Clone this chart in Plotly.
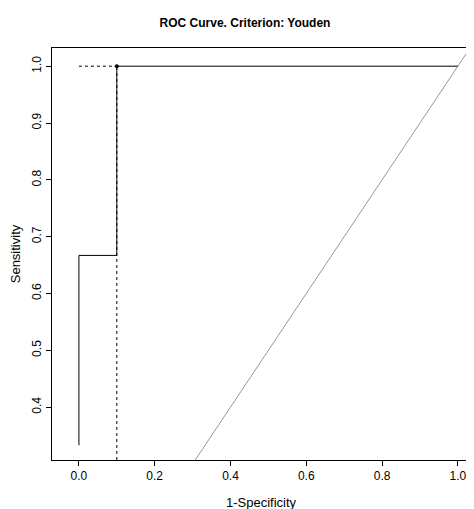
import plotly.graph_objects as go

fpr = [0.0, 0.0, 0.1, 0.1, 1.0]
tpr = [0.333, 0.667, 0.667, 1.0, 1.0]
diag = [0.0, 1.05]
opt_x = [0.1]
opt_y = [1.0]
xticks = [0.0, 0.2, 0.4, 0.6, 0.8, 1.0]
yticks = [0.4, 0.5, 0.6, 0.7, 0.8, 0.9, 1.0]
ymin = 0.307

fig = go.Figure()
fig.add_trace(go.Scatter(x=diag, y=diag, mode="lines", line=dict(color="#999999", width=1)))
fig.add_trace(go.Scatter(x=[0, opt_x[0]], y=[opt_y[0], opt_y[0]], mode="lines",
                         line=dict(color="black", width=1, dash="3px,3px")))
fig.add_trace(go.Scatter(x=[opt_x[0], opt_x[0]], y=[ymin, opt_y[0]], mode="lines",
                         line=dict(color="black", width=1, dash="3px,3px")))
fig.add_trace(go.Scatter(x=fpr, y=tpr, mode="lines", line=dict(color="black", width=1)))
fig.add_trace(go.Scatter(x=opt_x, y=opt_y, mode="markers", marker=dict(color="black", size=4)))

ax = dict(showgrid=False, zeroline=False, showline=True, mirror=True, linecolor="black",
          linewidth=1, ticks="outside", ticklen=5, tickcolor="black", automargin=False,
          tickfont=dict(size=12, color="black"))
fig.update_layout(
    width=474, height=509, showlegend=False,
    plot_bgcolor="white", paper_bgcolor="white",
    font=dict(family="Liberation Sans, Arial", color="black"),
    margin=dict(l=44, r=12, t=40, b=57),
    title=dict(text="<b>ROC Curve. Criterion: Youden</b>", x=0.5, xanchor="center",
               y=0.98, font=dict(size=12)),
    xaxis=dict(ax, range=[-0.071, 1.032], tickvals=xticks, tickformat=".1f",
               title=dict(text="1-Specificity", font=dict(size=13))),
    yaxis=dict(ax, range=[ymin, 1.032], tickvals=yticks, tickformat=".1f", tickangle=-90,
               title=dict(text="Sensitivity", font=dict(size=13), standoff=8)),
)
fig.write_html("out.html")
